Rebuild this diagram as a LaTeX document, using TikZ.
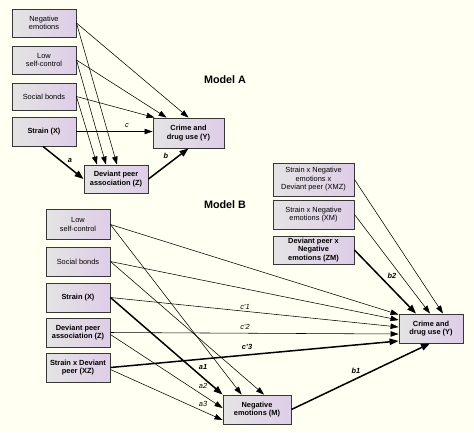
\documentclass[tikz,border=0pt]{standalone}
\usepackage{fontspec}
\setmainfont{Liberation Sans}
\usetikzlibrary{arrows.meta,calc}
\definecolor{bgcol}{RGB}{255,255,242}
\definecolor{boxl}{RGB}{228,228,228}
\definecolor{boxr}{RGB}{222,205,232}
\definecolor{boxline}{RGB}{55,55,55}
\begin{document}
\begin{tikzpicture}[x=1pt,y=-1pt,
  box/.style={draw=boxline,line width=0.9pt,left color=boxl,right color=boxr,
    inner sep=1pt,align=center,font=\fontsize{7.4}{8.5}\selectfont,
    minimum width=64pt,minimum height=29pt},
  bbox/.style={box,font=\fontsize{7.4}{8.5}\selectfont\bfseries},
  thin/.style={line width=0.55pt,-{Triangle[length=8pt,width=5.5pt]}},
  thick/.style={line width=1.5pt,-{Triangle[length=9pt,width=6.5pt]}},
  lab/.style={font=\fontsize{7.4}{8.5}\selectfont\itshape,inner sep=0pt},
  blab/.style={font=\fontsize{7.4}{8.5}\selectfont\bfseries\itshape,inner sep=0pt},
  title/.style={font=\fontsize{10.8}{12}\selectfont\bfseries,inner sep=0pt}]
\fill[bgcol] (0,0) rectangle (474,432);
\useasboundingbox (0,0) rectangle (474,432);
% Model A
\node[box,minimum height=28pt] (NEA) at (44,23) {Negative\\emotions};
\node[box,minimum height=28pt] (LSA) at (44,60) {Low\\self-control};
\node[box,minimum height=27pt] (SBA) at (44,96.5) {Social bonds};
\node[bbox] (SXA) at (44,131.5) {Strain (X)};
\node[bbox,minimum width=71pt,minimum height=30pt] (YA) at (188.5,133) {Crime and\\drug use (Y)};
\node[bbox,minimum height=28pt] (ZA) at (116,179) {Deviant peer\\association (Z)};
\node[title] (MA) at (225,80) {Model A};
\draw[thin] (NEA.east) -- (YA.north);
\draw[thin] (NEA.east) -- ($(ZA.north)+(1,0)$);
\draw[thin] (LSA.east) -- ($(YA.north west)+(14,0)$);
\draw[thin] (LSA.east) -- ($(ZA.north)+(-10,0)$);
\draw[thin] (SBA.east) -- ($(YA.north west)+(2,0)$);
\draw[thin] (SBA.east) -- ($(ZA.north)+(-19,0)$);
\draw[thin] (SXA.east) -- (SXA.east -| YA.west);
\draw[thick] ($(SXA.south)+(-1,0)$) -- (ZA.west);
\draw[thick] (ZA.east) -- (YA.south);
\node[lab] (cA) at (127,126) {c};
\node[blab] (aA) at (70,161) {a};
\node[blab] (bA) at (166,156) {b};
% Model B
\node[box,minimum height=30pt] (LSB) at (78,224.5) {Low\\self-control};
\node[box] (SBB) at (78,261.5) {Social bonds};
\node[bbox] (SXB) at (78,297.5) {Strain (X)};
\node[bbox] (ZB) at (78,332.5) {Deviant peer\\association (Z)};
\node[bbox] (XZ) at (78,367.5) {Strain x Deviant\\peer (XZ)};
\node[bbox,minimum width=68pt] (M) at (257,409.5) {Negative\\emotions (M)};
\node[bbox] (YB) at (431,328.5) {Crime and\\drug use (Y)};
\node[box,minimum width=81pt,minimum height=33pt] (XMZ) at (313.5,179.5) {Strain x Negative\\emotions x\\Deviant peer (XMZ)};
\node[box,minimum width=81pt] (XM) at (313.5,214.5) {Strain x Negative\\emotions (XM)};
\node[bbox,minimum width=81pt,minimum height=28pt] (ZM) at (313.5,250) {Deviant peer x\\Negative\\emotions (ZM)};
\node[title] (MB) at (225,205) {Model B};
\draw[thin] (LSB.east) -- ($(YB.north west)+(0,1)$);
\draw[thin] (LSB.east) -- ($(M.north west)+(19,0)$);
\draw[thin] (SBB.east) -- ($(YB.west)+(0,-8.5)$);
\draw[thin] (SBB.east) -- ($(M.north)+(7,0)$);
\draw[thin] (SXB.east) -- ($(YB.west)+(0,-1.5)$);
\draw[thick] (SXB.east) -- (M.north west);
\draw[thin] (ZB.east) -- ($(YB.west)+(0,5.5)$);
\draw[thin] ($(ZB.east)+(0,2)$) -- ($(M.west)+(0,-1.5)$);
\draw[thick] (XZ.east) -- ($(YB.west)+(0,12.5)$);
\draw[thin] ($(XZ.east)+(0,2)$) -- ($(M.west)+(0,10.5)$);
\draw[thin] (XMZ.east) -- ($(YB.north)+(12,0)$);
\draw[thin] (XM.east) -- ($(YB.north)+(-1,0)$);
\draw[thick] (ZM.east) -- ($(YB.north)+(-15,0)$);
\draw[thick] (M.east) -- ($(YB.south)+(-1,0)$);
\node[lab] (c1) at (245,307) {c'1};
\node[lab] (c2) at (245,327) {c'2};
\node[blab] (c3) at (247,347) {c'3};
\node[blab] (a1) at (203,367) {a1};
\node[lab] (a2) at (203,386) {a2};
\node[lab] (a3) at (203,404) {a3};
\node[blab] (b1) at (356,371) {b1};
\node[blab] (b2) at (392,276) {b2};
\end{tikzpicture}
\end{document}
